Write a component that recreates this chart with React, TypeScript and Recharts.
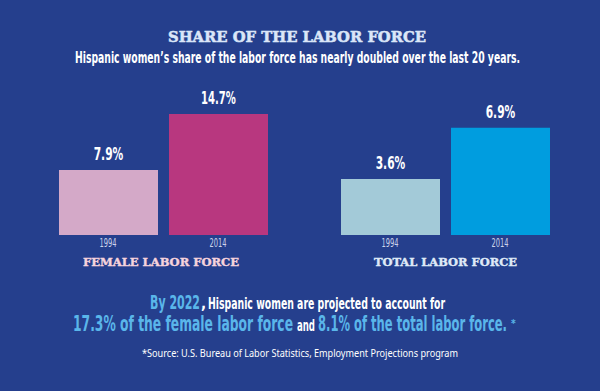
import { BarChart, Bar, XAxis, YAxis, Cell, LabelList } from "recharts";

const years = ["1994", "2014"];
const femaleShare = [7.9, 14.7];
const totalShare = [3.6, 6.9];
const femaleColors = ["#d4a9c8", "#b8377f"];
const totalColors = ["#a3cad8", "#009ddf"];

const BG = "#253f8d";
const NARROW = "'Liberation Sans Narrow', 'DejaVu Sans Condensed', 'Arial Narrow', 'DejaVu Sans', sans-serif";
const SLAB = "'DejaVu Serif', serif";

// rough width of a narrow-font string, so the SVG text can be squeezed to it
function narrowWidth(s: string, digit: number) {
  let w = 0;
  for (const ch of s) {
    if (ch === "1") w += digit * 0.8;
    else if (ch === ".") w += digit * 0.55;
    else if (ch === "%") w += digit * 2;
    else w += digit;
  }
  return w;
}

function ValueLabel(props: any) {
  const { x, y, width, value } = props;
  const label = `${value}%`;
  return (
    <text
      x={x + width / 2}
      y={y - 10}
      textAnchor="middle"
      textLength={narrowWidth(label, 6.5)}
      lengthAdjust="spacingAndGlyphs"
      fill="#ffffff"
      fontSize={17}
      fontWeight={700}
      fontFamily={NARROW}
    >
      {label}
    </text>
  );
}

function YearTick(props: any) {
  const { x, y, payload } = props;
  return (
    <text
      x={x}
      y={y + 9}
      textAnchor="middle"
      textLength={17}
      lengthAdjust="spacingAndGlyphs"
      fill="#ccd3ea"
      fontSize={12}
      fontFamily={NARROW}
    >
      {payload.value}
    </text>
  );
}

type PanelProps = {
  values: number[];
  colors: string[];
  max: number;
  left: number;
};

function SharePanel({ values, colors, max, left }: PanelProps) {
  const data = years.map((year, i) => ({ year, value: values[i] }));
  return (
    <div style={{ position: "absolute", left, top: 61 }}>
      <BarChart
        width={220}
        height={195}
        data={data}
        margin={{ top: 34, right: 0, bottom: 0, left: 0 }}
      >
        <XAxis
          dataKey="year"
          axisLine={false}
          tickLine={false}
          tickSize={0}
          tickMargin={3}
          height={21}
          tick={<YearTick />}
        />
        <YAxis hide domain={[0, max]} />
        <Bar dataKey="value" barSize={99} isAnimationActive={false}>
          {data.map((d, i) => (
            <Cell key={d.year} fill={colors[i]} />
          ))}
          <LabelList dataKey="value" content={<ValueLabel />} />
        </Bar>
      </BarChart>
    </div>
  );
}

export default function App() {
  return (
    <div
      style={{
        position: "absolute",
        left: 0,
        top: 0,
        width: 600,
        height: 391,
        background: BG,
        overflow: "hidden",
      }}
    >
      <svg
        width={600}
        height={391}
        style={{ position: "absolute", left: 0, top: 0 }}
      >
        <text
          x={168}
          y={42}
          textLength={258}
          lengthAdjust="spacingAndGlyphs"
          fill="#dbe6f8"
          stroke="#dbe6f8"
          strokeWidth={0.5}
          fontFamily={SLAB}
          fontWeight={700}
          fontSize={14}
        >
          SHARE OF THE LABOR FORCE
        </text>
        <text
          x={75}
          y={63}
          textLength={445}
          lengthAdjust="spacingAndGlyphs"
          fill="#ffffff"
          fontFamily={NARROW}
          fontWeight={600}
          fontSize={15}
        >
          Hispanic women’s share of the labor force has nearly doubled over the last 20 years.
        </text>
        <text
          x={83}
          y={266}
          textLength={156}
          lengthAdjust="spacingAndGlyphs"
          fill="#f6d3dc"
          stroke="#f6d3dc"
          strokeWidth={0.4}
          fontFamily={SLAB}
          fontWeight={700}
          fontSize={11}
        >
          FEMALE LABOR FORCE
        </text>
        <text
          x={374}
          y={266}
          textLength={143}
          lengthAdjust="spacingAndGlyphs"
          fill="#dfe9f7"
          stroke="#dfe9f7"
          strokeWidth={0.4}
          fontFamily={SLAB}
          fontWeight={700}
          fontSize={11}
        >
          TOTAL LABOR FORCE
        </text>
        <g fontFamily={NARROW} fontWeight={600}>
          <text x={150} y={309} textLength={50} lengthAdjust="spacingAndGlyphs" fill="#5ab6ea" fontSize={20}>
            By 2022
          </text>
          <text x={201} y={309} fill="#ffffff" fontSize={15}>
            ,
          </text>
          <text x={208} y={309} textLength={237} lengthAdjust="spacingAndGlyphs" fill="#ffffff" fontSize={15}>
            Hispanic women are projected to account for
          </text>
          <text x={73} y={331} textLength={220} lengthAdjust="spacingAndGlyphs" fill="#5ab6ea" fontSize={22}>
            17.3% of the female labor force
          </text>
          <text x={297} y={331} textLength={18} lengthAdjust="spacingAndGlyphs" fill="#ffffff" fontSize={15}>
            and
          </text>
          <text x={318} y={331} textLength={189} lengthAdjust="spacingAndGlyphs" fill="#5ab6ea" fontSize={22}>
            8.1% of the total labor force.
          </text>
          <text x={511} y={327} fill="#5ab6ea" fontSize={10}>
            *
          </text>
        </g>
        <text
          x={142}
          y={357}
          textLength={316}
          lengthAdjust="spacingAndGlyphs"
          fill="#ffffff"
          fontFamily="'Noto Sans', sans-serif"
          fontSize={10.5}
        >
          *Source: U.S. Bureau of Labor Statistics, Employment Projections program
        </text>
      </svg>
      <SharePanel values={femaleShare} colors={femaleColors} max={17} left={53} />
      <SharePanel values={totalShare} colors={totalColors} max={9} left={335} />
    </div>
  );
}
